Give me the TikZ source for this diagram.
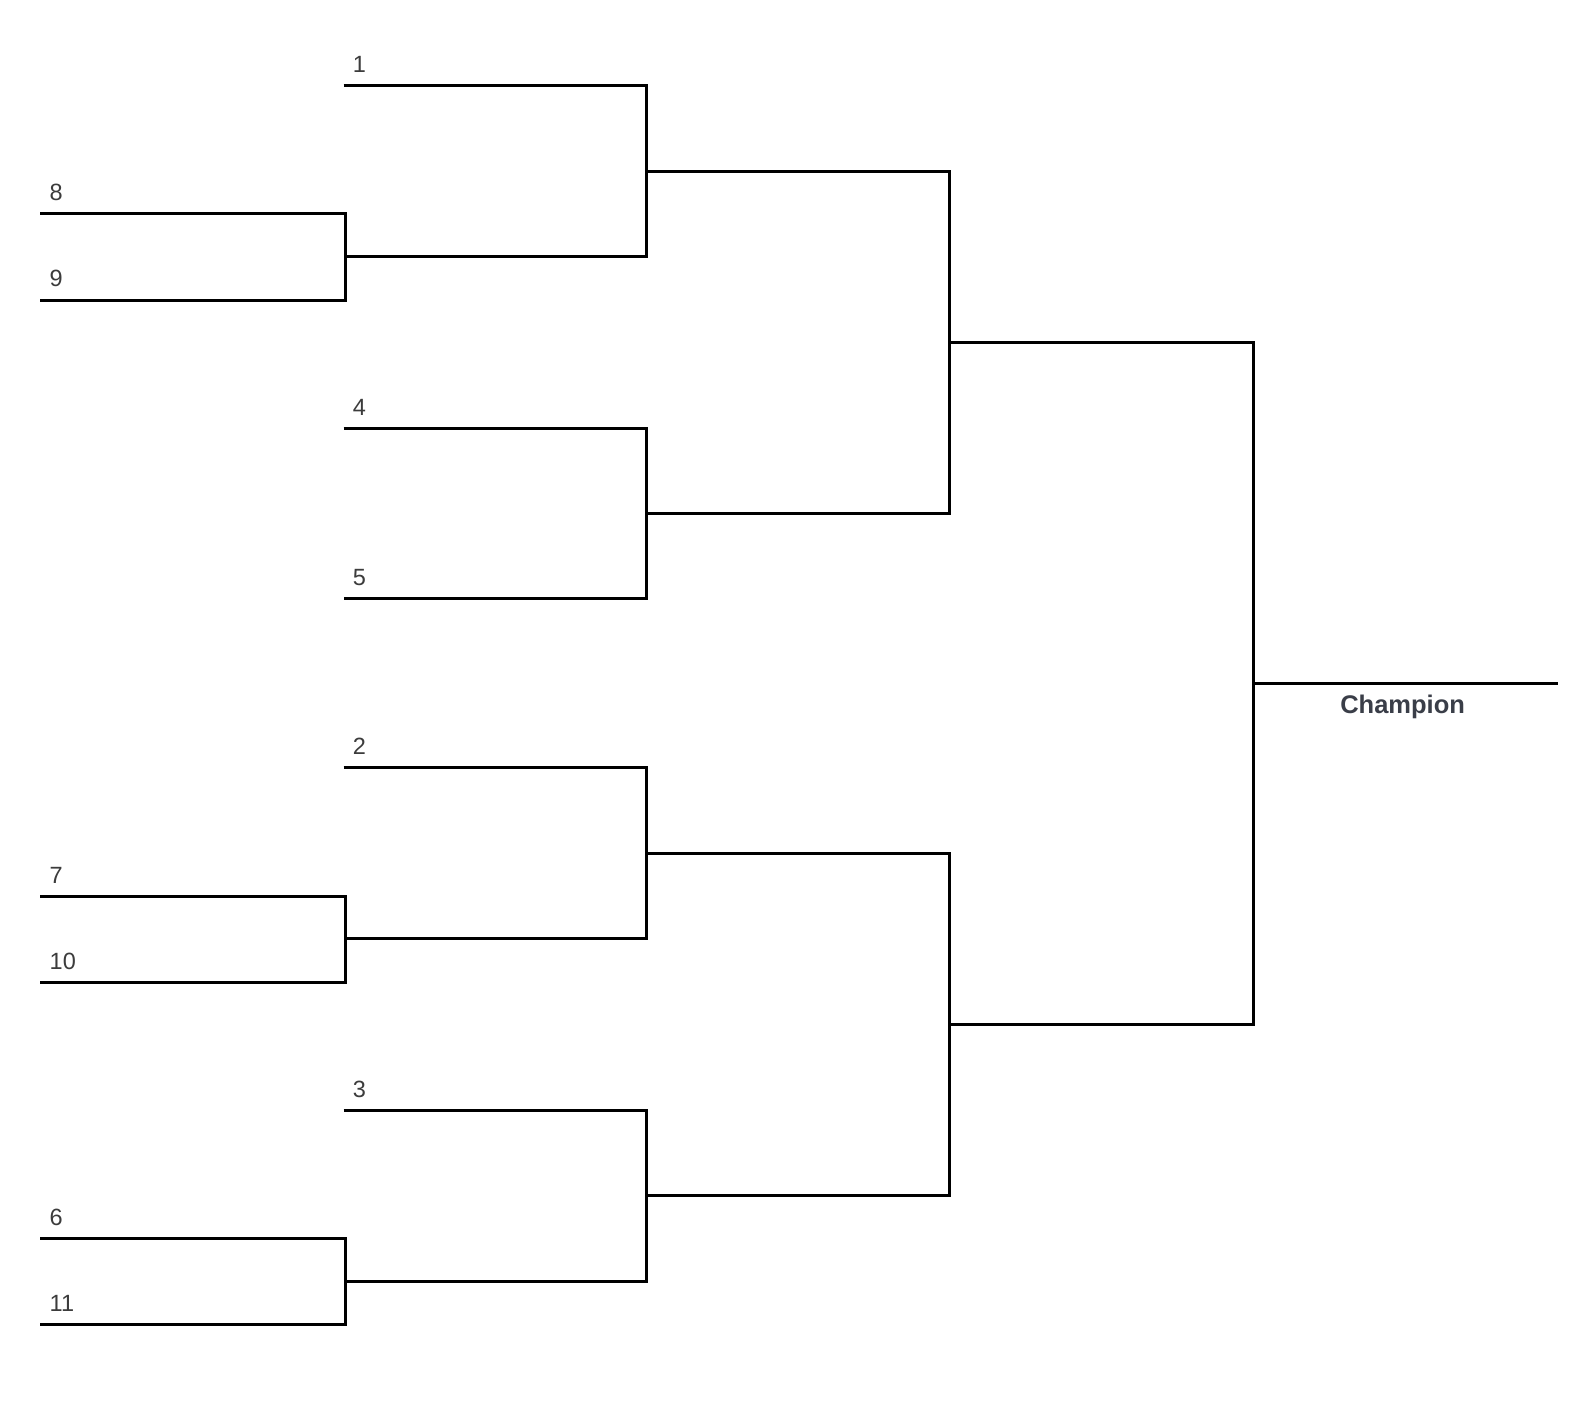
\documentclass[tikz,border=0pt]{standalone}
\usepackage{fontspec}
\setmainfont{Liberation Sans}
\definecolor{labelgray}{RGB}{60,60,60}
\definecolor{champgray}{RGB}{58,62,72}
\begin{document}
\begin{tikzpicture}[x=1.0105pt,y=-1.0105pt,
  br/.style={line width=3pt,black,line join=miter},
  seed/.style={anchor=base west,inner sep=0pt,text=labelgray,font=\fontsize{23.5}{26}\selectfont},
  champ/.style={anchor=base,inner sep=0pt,text=champgray,font=\bfseries\fontsize{25.5}{28}\selectfont}]
\useasboundingbox (0,0) rectangle (1571.5,1390.4);
\fill[white] (0,0) rectangle (1571.5,1390.4);
% round 1
\coordinate (s8) at (40,211);  \coordinate (e8) at (342,211);
\coordinate (s9) at (40,297);  \coordinate (e9) at (342,297);
\coordinate (w89) at (342,254);
\coordinate (s7) at (40,887);  \coordinate (e7) at (342,887);
\coordinate (s10) at (40,972); \coordinate (e10) at (342,972);
\coordinate (w710) at (342,929);
\coordinate (s6) at (40,1226); \coordinate (e6) at (342,1226);
\coordinate (s11) at (40,1311);\coordinate (e11) at (342,1311);
\coordinate (w611) at (342,1268);
% round 2
\coordinate (s1) at (340,85);   \coordinate (e1) at (640,85);
\coordinate (e89) at (640,254); \coordinate (m1) at (640,169.5);
\coordinate (s4) at (340,424);  \coordinate (e4) at (640,424);
\coordinate (s5) at (340,592);  \coordinate (e5) at (640,592);
\coordinate (m45) at (640,508);
\coordinate (s2) at (340,760);  \coordinate (e2) at (640,760);
\coordinate (e710) at (640,929);\coordinate (m2) at (640,844.5);
\coordinate (s3) at (340,1099); \coordinate (e3) at (640,1099);
\coordinate (e611) at (640,1268);\coordinate (m3) at (640,1183.5);
% round 3
\coordinate (f1) at (940,169.5); \coordinate (f45) at (940,508);
\coordinate (g1) at (940,339);
\coordinate (f2) at (940,844.5); \coordinate (f3) at (940,1183.5);
\coordinate (g2) at (940,1014);
% round 4
\coordinate (h1) at (1240,339); \coordinate (h2) at (1240,1014);
\coordinate (c0) at (1240,676.5); \coordinate (c1) at (1542,676.5);

\draw[br] (s8) -- (e8) -- (e9) -- (s9);
\draw[br] (s7) -- (e7) -- (e10) -- (s10);
\draw[br] (s6) -- (e6) -- (e11) -- (s11);
\draw[br] (s1) -- (e1) -- (e89) -- (w89);
\draw[br] (s4) -- (e4) -- (e5) -- (s5);
\draw[br] (s2) -- (e2) -- (e710) -- (w710);
\draw[br] (s3) -- (e3) -- (e611) -- (w611);
\draw[br] (m1) -- (f1) -- (f45) -- (m45);
\draw[br] (m2) -- (f2) -- (f3) -- (m3);
\draw[br] (g1) -- (h1) -- (h2) -- (g2);
\draw[br] (c0) -- (c1);

% labels
\node[seed] (l1) at ([shift={(9,-13)}]s1) {1};
\node[seed] (l8) at ([shift={(9,-13)}]s8) {8};
\node[seed] (l9) at ([shift={(9,-13)}]s9) {9};
\node[seed] (l4) at ([shift={(9,-13)}]s4) {4};
\node[seed] (l5) at ([shift={(9,-13)}]s5) {5};
\node[seed] (l2) at ([shift={(9,-13)}]s2) {2};
\node[seed] (l7) at ([shift={(9,-13)}]s7) {7};
\node[seed] (l10) at ([shift={(9,-13)}]s10) {10};
\node[seed] (l3) at ([shift={(9,-13)}]s3) {3};
\node[seed] (l6) at ([shift={(9,-13)}]s6) {6};
\node[seed] (l11) at ([shift={(9,-13)}]s11) {11};
\node[champ] (lc) at (1388,706) {Champion};
\end{tikzpicture}
\end{document}
